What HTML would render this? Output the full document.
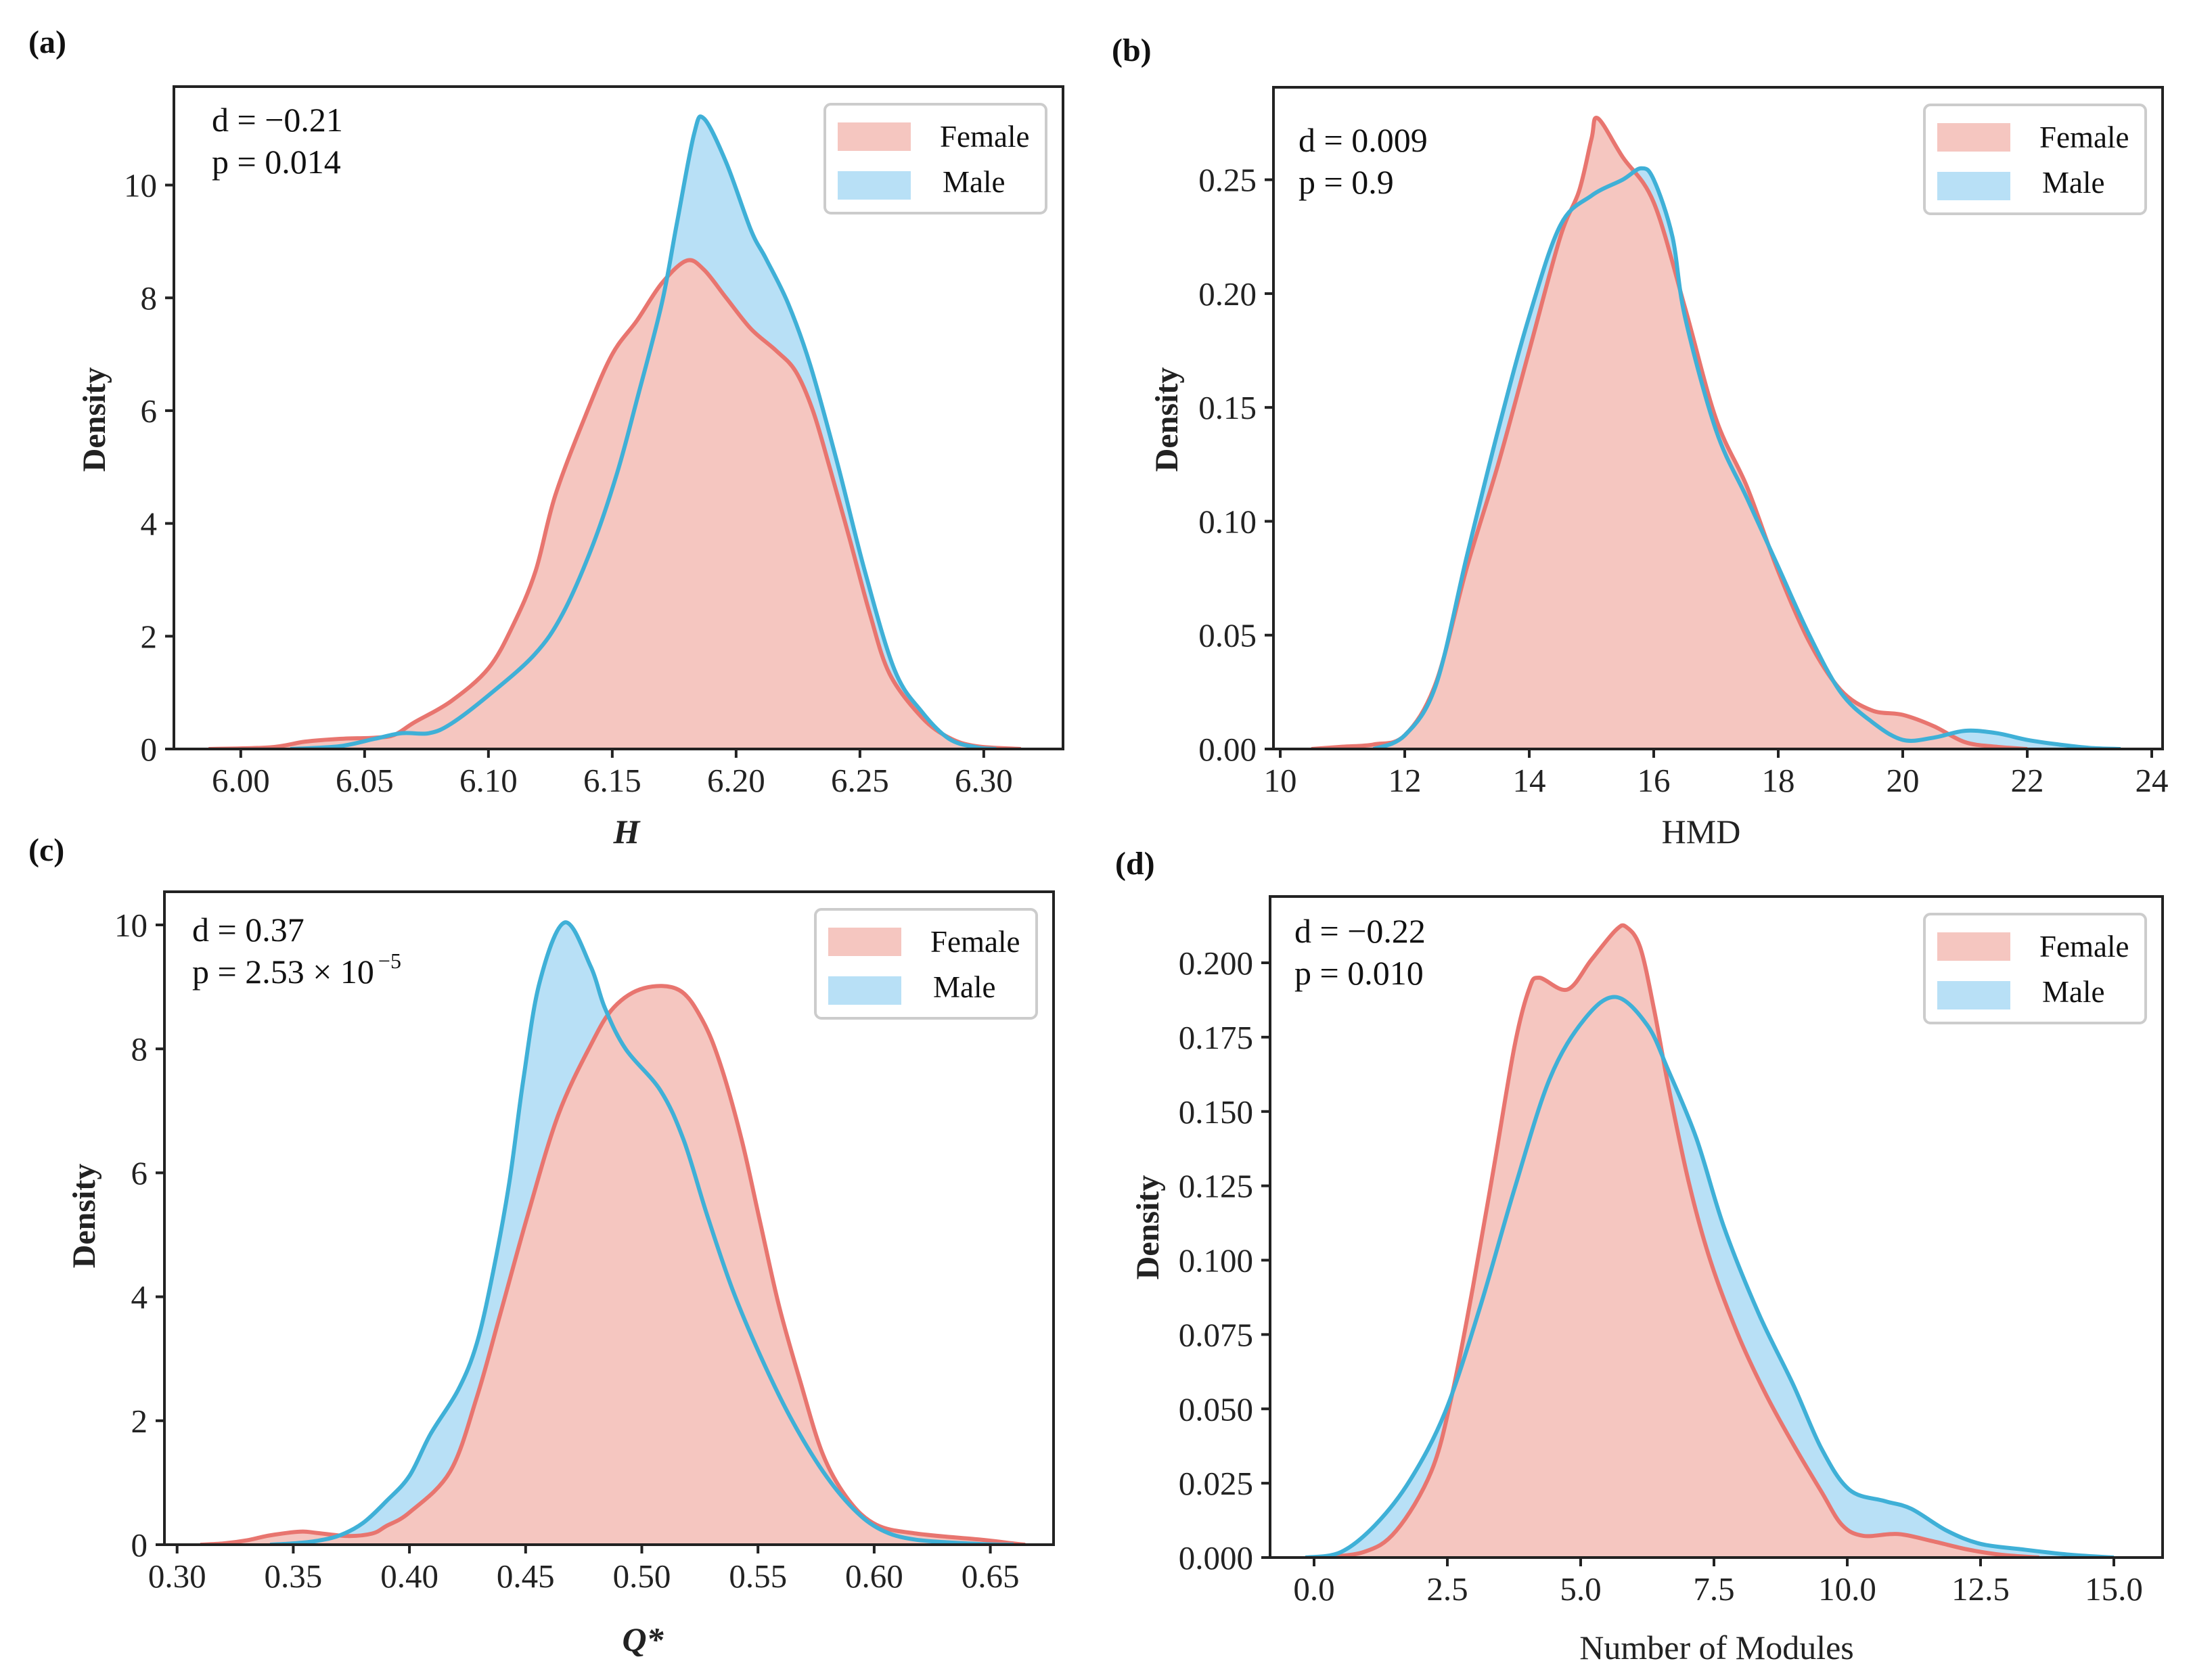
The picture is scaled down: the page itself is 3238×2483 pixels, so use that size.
<!DOCTYPE html>
<html><head><meta charset="utf-8"><title>Density comparison by sex: H, HMD, Q* and number of modules</title>
<style>
html,body{margin:0;padding:0;background:#fff;}
svg{display:block;font-family:"Liberation Serif","Times New Roman",serif;}
</style></head>
<body>
<svg id="fig" width="3238" height="2483" viewBox="0 0 3238 2483" xmlns="http://www.w3.org/2000/svg"></svg>
<script>
// ---------- Panel (a): H ----------
const aFemaleX = [5.987,6.012,6.026,6.04,6.054,6.062,6.07,6.085,6.10,6.11,6.119,6.127,6.14,6.15,6.16,6.17,6.18,6.187,6.196,6.206,6.216,6.224,6.231,6.238,6.246,6.254,6.262,6.275,6.286,6.297,6.315];
const aFemaleY = [0,0.03,0.13,0.18,0.2,0.25,0.47,0.85,1.43,2.2,3.15,4.5,6.0,7.0,7.6,8.26,8.66,8.5,8.0,7.45,7.07,6.7,6.0,4.96,3.7,2.4,1.33,0.56,0.2,0.05,0];
const aMaleX = [6.02,6.04,6.054,6.065,6.076,6.085,6.10,6.1185,6.13,6.142,6.152,6.16,6.17,6.176,6.183,6.187,6.196,6.206,6.212,6.221,6.23,6.241,6.252,6.264,6.275,6.286,6.297,6.305];
const aMaleY = [0,0.05,0.18,0.28,0.28,0.45,0.95,1.67,2.4,3.6,4.9,6.2,7.9,9.3,10.9,11.18,10.4,9.2,8.7,7.9,6.8,5.05,3.15,1.4,0.66,0.18,0.03,0];
const aXTicks = [6.00,6.05,6.10,6.15,6.20,6.25,6.30];
const aXTickLabels = ["6.00","6.05","6.10","6.15","6.20","6.25","6.30"];
const aYTicks = [0,2,4,6,8,10];
const aYTickLabels = ["0","2","4","6","8","10"];

// ---------- Panel (b): HMD ----------
const bFemaleX = [10.5,11,11.5,12,12.5,13,13.5,14,14.5,14.8,15,15.1,15.5,16,16.5,17,17.5,18,18.5,19,19.5,20,20.5,21,21.5,22];
const bFemaleY = [0,0.001,0.002,0.006,0.029,0.08,0.125,0.175,0.225,0.245,0.268,0.277,0.26,0.24,0.194,0.145,0.115,0.078,0.047,0.026,0.017,0.015,0.01,0.003,0.001,0];
const bMaleX = [11.5,12,12.5,13,13.5,14,14.5,15,15.5,15.8,16,16.3,16.5,17,17.5,18,18.5,19,19.5,20,20.5,21,21.5,22,22.5,23,23.5];
const bMaleY = [0,0.006,0.028,0.085,0.14,0.19,0.23,0.243,0.25,0.255,0.25,0.225,0.19,0.14,0.11,0.08,0.05,0.025,0.012,0.004,0.005,0.008,0.007,0.004,0.002,0.0005,0];
const bXTicks = [10,12,14,16,18,20,22,24];
const bXTickLabels = ["10","12","14","16","18","20","22","24"];
const bYTicks = [0,0.05,0.10,0.15,0.20,0.25];
const bYTickLabels = ["0.00","0.05","0.10","0.15","0.20","0.25"];

// ---------- Panel (c): Q* ----------
const cFemaleX = [0.31,0.32,0.33,0.34,0.353,0.36,0.3734,0.384,0.39,0.40,0.4175,0.429,0.439,0.451,0.464,0.478,0.488,0.501,0.516,0.526,0.534,0.543,0.551,0.559,0.568,0.578,0.589,0.601,0.618,0.646,0.66,0.665];
const cFemaleY = [0,0.02,0.07,0.15,0.21,0.19,0.14,0.18,0.3,0.52,1.18,2.38,3.71,5.33,6.93,8.06,8.67,8.98,8.95,8.47,7.73,6.53,5.19,3.86,2.66,1.45,0.72,0.32,0.18,0.08,0.02,0];
const cMaleX = [0.34,0.35,0.36,0.37,0.38,0.39,0.40,0.409,0.421,0.429,0.436,0.443,0.449,0.456,0.4668,0.478,0.484,0.493,0.508,0.518,0.528,0.539,0.551,0.564,0.578,0.591,0.603,0.618,0.646,0.66];
const cMaleY = [0,0.02,0.06,0.15,0.35,0.7,1.11,1.78,2.5,3.25,4.4,5.85,7.5,9.07,10.04,9.33,8.67,8.0,7.33,6.53,5.33,4.12,3.05,2.05,1.18,0.58,0.24,0.08,0.01,0];
const cXTicks = [0.30,0.35,0.40,0.45,0.50,0.55,0.60,0.65];
const cXTickLabels = ["0.30","0.35","0.40","0.45","0.50","0.55","0.60","0.65"];
const cYTicks = [0,2,4,6,8,10];
const cYTickLabels = ["0","2","4","6","8","10"];

// ---------- Panel (d): Number of Modules ----------
const dFemaleX = [0,0.92,1.54,2.2,2.59,2.98,3.37,3.76,4.03,4.22,4.75,5.2,5.66,5.86,6.12,6.38,6.64,7.03,7.43,7.95,8.47,8.99,9.52,9.9,10.3,10.95,11.6,12.26,12.9,13.6];
const dFemaleY = [0,0.0018,0.009,0.029,0.055,0.091,0.131,0.172,0.191,0.195,0.191,0.201,0.211,0.212,0.205,0.184,0.159,0.126,0.100,0.075,0.055,0.038,0.022,0.011,0.0073,0.0079,0.0055,0.0027,0.0009,0];
const dMaleX = [-0.16,0.5,1.15,1.8,2.46,3.11,3.76,4.42,5.07,5.66,6.25,6.64,7.17,7.69,8.34,8.99,9.52,10.04,10.7,11.2,11.87,12.5,13.3,14.2,15.0];
const dMaleY = [0,0.0018,0.011,0.026,0.049,0.084,0.124,0.161,0.181,0.1885,0.179,0.164,0.141,0.111,0.082,0.058,0.0365,0.0228,0.019,0.0164,0.009,0.0046,0.0027,0.0009,0];
const dXTicks = [0,2.5,5,7.5,10,12.5,15];
const dXTickLabels = ["0.0","2.5","5.0","7.5","10.0","12.5","15.0"];
const dYTicks = [0,0.025,0.05,0.075,0.1,0.125,0.15,0.175,0.2];
const dYTickLabels = ["0.000","0.025","0.050","0.075","0.100","0.125","0.150","0.175","0.200"];

const NS = "http://www.w3.org/2000/svg";
const svg = document.getElementById("fig");
const RED = "#e8756f", RED_FILL = "#f5c6c0", BLUE = "#3fb0d7", BLUE_FILL = "#b8e0f6", INK = "#222";

function mk(tag, attrs, parent) {
  const e = document.createElementNS(NS, tag);
  for (const k in attrs) e.setAttribute(k, attrs[k]);
  (parent || svg).appendChild(e);
  return e;
}
function smoothPath(pts) {
  let d = "M" + pts[0][0].toFixed(2) + "," + pts[0][1].toFixed(2);
  for (let i = 0; i < pts.length - 1; i++) {
    const p0 = pts[Math.max(0, i - 1)], p1 = pts[i], p2 = pts[i + 1], p3 = pts[Math.min(pts.length - 1, i + 2)];
    const c1x = p1[0] + (p2[0] - p0[0]) / 6, c1y = p1[1] + (p2[1] - p0[1]) / 6;
    const c2x = p2[0] - (p3[0] - p1[0]) / 6, c2y = p2[1] - (p3[1] - p1[1]) / 6;
    d += " C" + c1x.toFixed(2) + "," + c1y.toFixed(2) + " " + c2x.toFixed(2) + "," + c2y.toFixed(2) + " " + p2[0].toFixed(2) + "," + p2[1].toFixed(2);
  }
  return d;
}

function panel(cfg) {
  const g = mk("g", {});
  
  
  const L = cfg.left, R = cfg.right, T = cfg.top, B = cfg.bottom;
  const sx = v => L + (v - cfg.xd[0]) / (cfg.xd[1] - cfg.xd[0]) * (R - L);
  const sy = v => B - (v - cfg.yd[0]) / (cfg.yd[1] - cfg.yd[0]) * (B - T);
  const clip = mk("clipPath", {id: "clip-" + cfg.id}, g);
  mk("rect", {x: L, y: T, width: R - L, height: B - T}, clip);
  const plot = mk("g", {"clip-path": "url(#clip-" + cfg.id + ")"}, g);

  function series(xs, ys) {
    const pts = xs.map((x, i) => [sx(x), Math.min(sy(ys[i]), B)]);
    const d = smoothPath(pts);
    return {d: d, fill: d + " L" + pts[pts.length - 1][0].toFixed(2) + "," + B + " L" + pts[0][0].toFixed(2) + "," + B + " Z"};
  }
  const male = series(cfg.mx, cfg.my);
  const fem = series(cfg.fx, cfg.fy);
  const mf = mk("path", {d: male.fill, fill: BLUE_FILL, stroke: "none"}, plot);
  
  
  const ff = mk("path", {d: fem.fill, fill: RED_FILL, stroke: "none"}, plot);
  
  
  const fl = mk("path", {d: fem.d, fill: "none", stroke: RED, "stroke-width": 6, "stroke-linejoin": "round"}, plot);
  
  
  const ml = mk("path", {d: male.d, fill: "none", stroke: BLUE, "stroke-width": 6, "stroke-linejoin": "round"}, plot);
  
  

  const fr = mk("rect", {x: L, y: T, width: R - L, height: B - T, fill: "none", stroke: INK, "stroke-width": 4}, g);
  
  

  cfg.xt.forEach((v, i) => {
    const x = sx(v);
    const t = mk("line", {x1: x, y1: B, x2: x, y2: B + 13, stroke: INK, "stroke-width": 4}, g);
    
    
    const tl = mk("text", {x: x, y: B + 63, "font-size": 49, "text-anchor": "middle", fill: INK}, g);
    
    
    tl.textContent = cfg.xl[i];
  });
  cfg.yt.forEach((v, i) => {
    const y = sy(v);
    const t = mk("line", {x1: L - 13, y1: y, x2: L, y2: y, stroke: INK, "stroke-width": 4}, g);
    
    
    const tl = mk("text", {x: L - 25, y: y + 17, "font-size": 49, "text-anchor": "end", fill: INK}, g);
    
    
    tl.textContent = cfg.yl[i];
  });

  const xt = mk("text", {x: cfg.xtitle[1], y: cfg.xtitle[2], "font-size": 50, "text-anchor": "middle", fill: INK,
    "font-weight": cfg.xtitle[3] ? "bold" : "normal", "font-style": cfg.xtitle[3] ? "italic" : "normal"}, g);
  
  
  xt.textContent = cfg.xtitle[0];
  const yt = mk("text", {x: 0, y: 0, "font-size": 48, "text-anchor": "middle", "font-weight": "bold", fill: INK,
    transform: "translate(" + cfg.ytitle[0] + "," + cfg.ytitle[1] + ") rotate(-90)"}, g);
  
  
  yt.textContent = "Density";

  const pl = mk("text", {x: cfg.plabel[1], y: cfg.plabel[2], "font-size": 48, "font-weight": "bold", fill: "#111"}, g);
  
  
  pl.textContent = cfg.plabel[0];

  const s1 = mk("text", {x: cfg.stats[0], y: cfg.stats[1], "font-size": 50, fill: "#111"}, g);
  
  
  s1.textContent = cfg.dtext;
  const s2 = mk("text", {x: cfg.stats[0], y: cfg.stats[1] + 62, "font-size": 50, fill: "#111"}, g);
  
  
  if (cfg.sup) {
    s2.textContent = cfg.ptext;
    const sp = mk("tspan", {"font-size": 32, dy: -22, dx: 6}, s2);
    sp.textContent = cfg.sup;
  } else s2.textContent = cfg.ptext;

  const lx = R - 352, ly = T + 26;
  const lg = mk("g", {}, g);
  
  
  mk("rect", {x: lx, y: ly, width: 327, height: 161, rx: 9, fill: "#fff", stroke: "#cccccc", "stroke-width": 4}, lg);
  const e1 = mk("rect", {x: lx + 19, y: ly + 27, width: 108, height: 42, fill: RED_FILL}, lg);
  
  
  const e2 = mk("rect", {x: lx + 19, y: ly + 99, width: 108, height: 42, fill: BLUE_FILL}, lg);
  
  
  const t1 = mk("text", {x: lx + 170, y: ly + 63, "font-size": 45, fill: "#111"}, lg);
  
  
  t1.textContent = "Female";
  const t2 = mk("text", {x: lx + 174, y: ly + 130, "font-size": 45, fill: "#111"}, lg);
  
  
  t2.textContent = "Male";
}

panel({id: "a", left: 257, right: 1571, top: 128, bottom: 1107, xd: [5.973, 6.332], yd: [0, 11.746],
  fx: aFemaleX, fy: aFemaleY, mx: aMaleX, my: aMaleY, xt: aXTicks, xl: aXTickLabels, yt: aYTicks, yl: aYTickLabels,
  xtitle: ["H", 926, 1246, true], ytitle: [155, 620], plabel: ["(a)", 42, 78], stats: [313, 194],
  dtext: "d = \u22120.21", ptext: "p = 0.014"});
panel({id: "b", left: 1882, right: 3196, top: 129, bottom: 1107, xd: [9.891, 24.174], yd: [0, 0.2906],
  fx: bFemaleX, fy: bFemaleY, mx: bMaleX, my: bMaleY, xt: bXTicks, xl: bXTickLabels, yt: bYTicks, yl: bYTickLabels,
  xtitle: ["HMD", 2514, 1246, false], ytitle: [1740, 620], plabel: ["(b)", 1643, 90], stats: [1919, 224],
  dtext: "d = 0.009", ptext: "p = 0.9"});
panel({id: "c", left: 243, right: 1557, top: 1318, bottom: 2283, xd: [0.29455, 0.6772], yd: [0, 10.535],
  fx: cFemaleX, fy: cFemaleY, mx: cMaleX, my: cMaleY, xt: cXTicks, xl: cXTickLabels, yt: cYTicks, yl: cYTickLabels,
  xtitle: ["Q*", 950, 2440, true], ytitle: [140, 1797], plabel: ["(c)", 42, 1272], stats: [284, 1391],
  dtext: "d = 0.37", ptext: "p = 2.53 \u00d7 10", sup: "\u22125"});
panel({id: "d", left: 1877, right: 3196, top: 1325, bottom: 2302, xd: [-0.825, 15.914], yd: [0, 0.2223],
  fx: dFemaleX, fy: dFemaleY, mx: dMaleX, my: dMaleY, xt: dXTicks, xl: dXTickLabels, yt: dYTicks, yl: dYTickLabels,
  xtitle: ["Number of Modules", 2537, 2452, false], ytitle: [1712, 1814], plabel: ["(d)", 1648, 1292], stats: [1913, 1393],
  dtext: "d = \u22120.22", ptext: "p = 0.010"});
</script>
</body></html>
